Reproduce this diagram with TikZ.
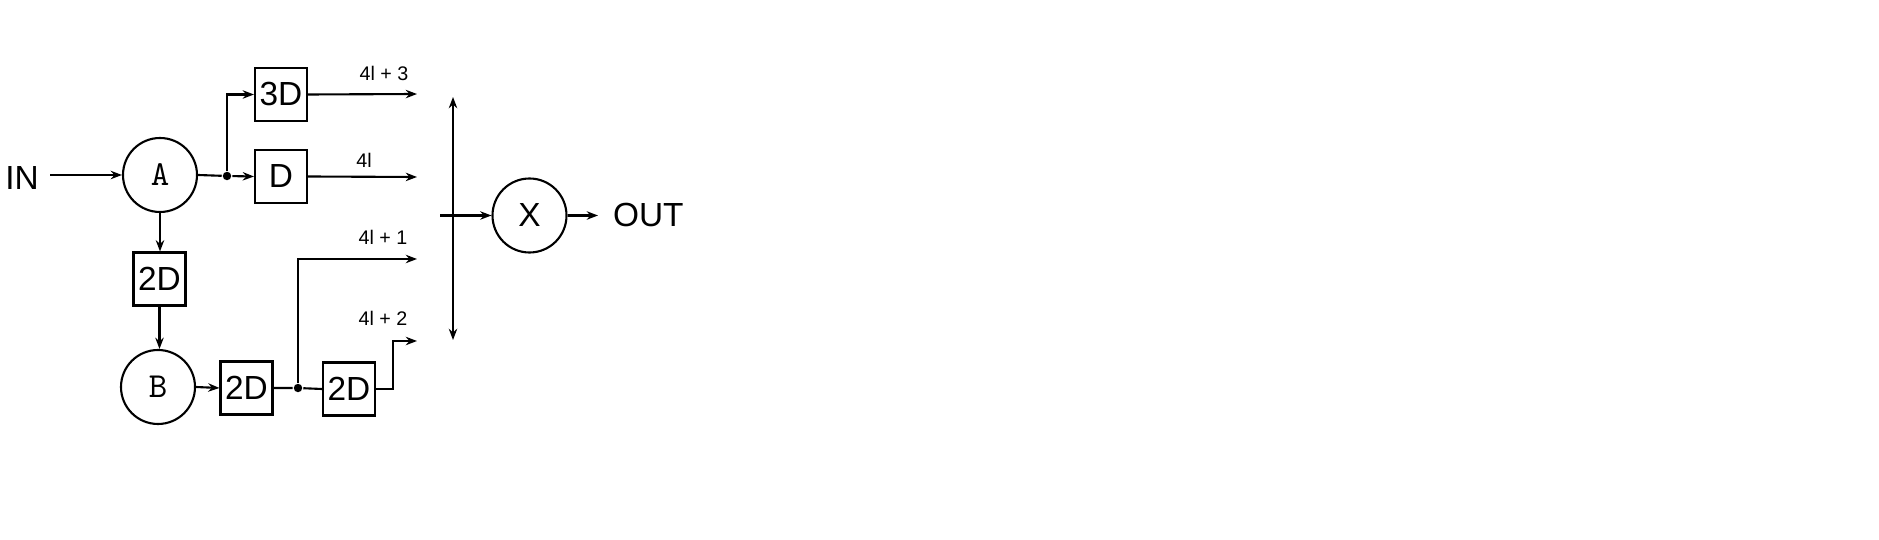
\documentclass[tikz,border=0pt]{standalone}
\usepackage{fontspec}
\setmainfont{Liberation Sans}
\usetikzlibrary{arrows.meta}
\begin{document}
\begin{tikzpicture}[x=0.01cm,y=-0.01cm,
  line width=0.6pt,
  tip/.style={-{Stealth[length=3.2pt,width=2.4pt]}},
  blk/.style={draw,minimum width=52*0.01cm,minimum height=53*0.01cm,inner sep=0pt,font=\fontsize{9.5}{10}\selectfont},
  circ/.style={draw,circle,minimum size=74*0.01cm,inner sep=0pt},
  mono/.style={font=\ttfamily\fontsize{10}{10}\selectfont},
  lbl/.style={font=\fontsize{5.6}{6}\selectfont,inner sep=0pt},
  big/.style={font=\fontsize{9.5}{10}\selectfont,inner sep=0pt},
  jdot/.style={circle,fill,inner sep=0pt,minimum size=2.4pt}]
\useasboundingbox (0,0) rectangle (1879,540);
\node[big] (in) at (22,178) {IN};
\node[circ,mono] (A) at (160,175) {A};
\node[jdot] (j1) at (227,176) {};
\node[blk] (d3) at (281,94.5) {3D};
\node[blk] (d1) at (281,176.5) {D};
\node[blk] (d2a) at (159.5,279) {2D};
\node[circ,mono] (B) at (158,387) {B};
\node[blk] (d2b) at (246.5,388) {2D};
\node[jdot] (j2) at (298,388) {};
\node[blk] (d2c) at (349,389) {2D};
\coordinate (o3) at (417,94);
\coordinate (o0) at (417,177);
\coordinate (o1) at (417,259);
\coordinate (o2) at (417,341);
\node[lbl] (l3) at (384,73) {4l + 3};
\node[lbl] (l0) at (364,160) {4l};
\node[lbl] (l1) at (383,237) {4l + 1};
\node[lbl] (l2) at (383,318) {4l + 2};
\coordinate (vt) at (453,97);
\coordinate (vb) at (453,340);
\coordinate (hs) at (440,215.5);
\node[circ,big] (X) at (529.5,215.5) {X};
\node[big,anchor=west] (out) at (612,215.5) {OUT};
\coordinate (ins) at (50,175);
\coordinate (oute) at (598,215.5);
% connectors
\draw[tip] (ins) -- (A.west);
\draw (A.east) -- (j1);
\draw[tip] (j1) -- (d1.west);
\draw[tip] (j1) |- (d3.west);
\draw[tip] (d3.east) -- (o3);
\draw[tip] (d1.east) -- (o0);
\draw[tip] (A.south) -- (A.south |- d2a.north);
\draw[tip] (d2a.south) -- (d2a.south |- B.north);
\draw[tip] (B.east) -- (d2b.west);
\draw (d2b.east) -- (j2) -- (d2c.west);
\draw[tip] (j2) |- (o1);
\coordinate (k2) at (393,389);
\draw[tip] (d2c.east) -- (k2) |- (o2);
\draw[{Stealth[length=3.2pt,width=2.4pt]}-{Stealth[length=3.2pt,width=2.4pt]}] (vt) -- (vb);
\draw[tip] (hs) -- (X.west);
\draw[tip] (X.east) -- (oute);
\end{tikzpicture}
\end{document}
